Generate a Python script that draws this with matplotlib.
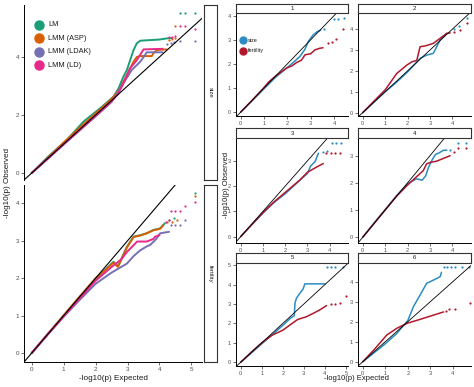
import matplotlib
matplotlib.use("Agg")
import matplotlib.pyplot as plt

plt.rcParams["font.family"] = ["Liberation Sans", "DejaVu Sans"]

# ---- left panel: model comparison (size / fertility) ----
model_labels = ["LM", "LMM (ASP)", "LMM (LDAK)", "LMM (LD)"]
model_colors = ["#1b9e77", "#d95f02", "#7570b3", "#e7298a"]

# size
size_lm_x = [0, 0.5, 1.1, 1.62, 2.14, 2.56, 2.72, 2.87, 2.98, 3.1, 3.19, 3.29, 3.4, 3.7, 4.0, 4.23, 4.4]
size_lm_y = [0, 0.55, 1.14, 1.77, 2.23, 2.63, 2.92, 3.32, 3.55, 3.95, 4.24, 4.47, 4.56, 4.58, 4.6, 4.64, 4.65]
size_lm_tx = [4.65, 4.81, 5.12]
size_lm_ty = [5.53, 5.53, 5.53]
size_asp_x = [0, 0.5, 1.0, 1.5, 2.0, 2.5, 2.77, 2.98, 3.19, 3.29, 3.4, 3.76, 3.81, 3.92, 4.23]
size_asp_y = [0, 0.52, 1.05, 1.56, 2.05, 2.55, 2.92, 3.38, 3.84, 4.0, 4.03, 4.03, 4.13, 4.24, 4.26]
size_asp_tx = [4.3, 4.4, 4.49, 4.49]
size_asp_ty = [4.6, 4.62, 4.65, 5.05]
size_ldak_x = [0, 0.5, 1.0, 1.5, 2.0, 2.5, 2.87, 3.13, 3.29, 3.4, 3.55, 3.6, 4.1]
size_ldak_y = [0, 0.49, 0.98, 1.47, 1.95, 2.45, 3.09, 3.55, 3.72, 3.84, 4.07, 4.16, 4.16]
size_ldak_tx = [4.25, 4.35, 4.45, 4.65, 5.12]
size_ldak_ty = [4.45, 4.47, 4.5, 4.55, 4.55]
size_ld_x = [0, 0.5, 1.0, 1.5, 2.0, 2.5, 2.7, 2.85, 3.08, 3.29, 3.5, 4.1]
size_ld_y = [0, 0.49, 0.99, 1.48, 1.97, 2.47, 2.72, 3.05, 3.61, 3.89, 4.26, 4.28]
size_ld_tx = [4.3, 4.4, 4.5, 4.65, 4.81, 5.12]
size_ld_ty = [4.68, 4.7, 4.72, 5.05, 5.05, 4.96]

# fertility
fert_lm_x = [0, 0.5, 1.0, 1.5, 2.04, 2.45, 2.56, 2.7, 2.98, 3.19, 3.4, 3.6, 3.81, 4.02, 4.17]
fert_lm_y = [0, 0.5, 1.0, 1.5, 2.0, 2.35, 2.44, 2.32, 2.84, 3.11, 3.15, 3.2, 3.29, 3.33, 3.47]
fert_lm_tx = [4.3, 4.45, 5.12]
fert_lm_ty = [3.55, 3.6, 4.27]
fert_asp_x = [0, 0.5, 1.0, 1.5, 2.0, 2.45, 2.56, 2.7, 2.98, 3.19, 3.4, 3.6, 3.81, 4.02, 4.12]
fert_asp_y = [0, 0.51, 1.01, 1.51, 2.0, 2.33, 2.42, 2.3, 2.82, 3.1, 3.14, 3.2, 3.28, 3.32, 3.42]
fert_asp_tx = [4.25, 4.4, 4.55, 5.12]
fert_asp_ty = [3.5, 3.5, 3.55, 4.2]
fert_ldak_x = [0, 0.5, 1.0, 1.5, 2.0, 2.5, 2.98, 3.2, 3.39, 3.6, 3.71, 3.9, 4.02, 4.3]
fert_ldak_y = [0, 0.49, 0.97, 1.42, 1.85, 2.15, 2.39, 2.6, 2.74, 2.85, 2.89, 3.05, 3.2, 3.24]
fert_ldak_tx = [4.35, 4.5, 4.65, 4.81]
fert_ldak_ty = [3.41, 3.41, 3.42, 3.55]
fert_ld_x = [0, 0.5, 1.0, 1.5, 2.0, 2.5, 2.8, 2.98, 3.3, 3.6, 3.81, 3.86, 4.0]
fert_ld_y = [0, 0.5, 0.98, 1.46, 1.93, 2.3, 2.5, 2.7, 2.98, 2.98, 3.05, 3.11, 3.15]
fert_ld_tx = [4.2, 4.3, 4.35, 4.5, 4.65, 4.81, 5.12]
fert_ld_ty = [3.5, 3.55, 3.8, 3.8, 3.8, 3.93, 4.03]

# ---- right panel: six chromosomes, size vs fertility ----
trait_labels = ["size", "fertility"]
trait_colors = ["#2b8cc4", "#b2182b"]
facet_names = ["1", "2", "3", "4", "5", "6"]

blue1_x = [0, 0.5, 1.0, 1.5, 2.0, 2.3, 2.54, 2.75, 2.9, 3.1, 3.28, 3.43]
blue1_y = [0, 0.48, 0.97, 1.45, 1.85, 2.1, 2.31, 2.6, 2.93, 3.2, 3.34, 3.4]
blue1_tx = [3.55, 4.0, 4.15, 4.42]
blue1_ty = [3.45, 3.85, 3.88, 3.92]
red1_x = [0, 0.5, 1.0, 1.2, 1.5, 1.97, 2.2, 2.4, 2.6, 2.76, 3.0, 3.18, 3.39, 3.53]
red1_y = [0, 0.5, 1.02, 1.25, 1.5, 1.83, 1.92, 2.06, 2.15, 2.38, 2.42, 2.58, 2.65, 2.67]
red1_tx = [3.75, 3.9, 4.1, 4.38]
red1_ty = [2.86, 2.9, 3.03, 3.44]

blue2_x = [0, 0.5, 1.0, 1.5, 2.0, 2.56, 2.86, 3.15, 3.3, 3.45, 3.75]
blue2_y = [0, 0.5, 1.0, 1.45, 1.95, 2.6, 2.76, 2.84, 3.16, 3.48, 3.8]
blue2_tx = [4.05, 4.3, 4.65]
blue2_ty = [4.0, 4.15, 4.55]
red2_x = [0, 0.5, 1.0, 1.52, 1.97, 2.2, 2.41, 2.56, 2.8, 3.15, 3.45, 3.75, 3.9]
red2_y = [0, 0.55, 1.09, 1.88, 2.28, 2.44, 2.5, 3.16, 3.2, 3.32, 3.56, 3.8, 3.82]
red2_tx = [4.05, 4.35, 4.65]
red2_ty = [3.88, 3.96, 4.28]

blue3_x = [0, 0.5, 1.0, 1.5, 2.0, 2.5, 2.8, 3.0, 3.15, 3.35, 3.5]
blue3_y = [0, 0.47, 0.93, 1.35, 1.7, 2.1, 2.35, 2.5, 2.8, 2.98, 3.31]
blue3_tx = [3.72, 3.9, 4.1, 4.3, 4.5]
blue3_ty = [3.37, 3.4, 3.73, 3.73, 3.73]
red3_x = [0, 0.5, 1.0, 1.5, 2.0, 2.4, 2.67, 3.0, 3.3, 3.5, 3.72]
red3_y = [0, 0.48, 0.95, 1.38, 1.75, 2.05, 2.25, 2.55, 2.7, 2.8, 2.9]
red3_tx = [3.85, 4.05, 4.25, 4.45]
red3_ty = [3.3, 3.31, 3.31, 3.33]

blue4_x = [0, 0.5, 1.0, 1.5, 2.0, 2.4, 2.65, 2.8, 2.95, 3.1, 3.25, 3.4, 3.6, 3.75]
blue4_y = [0, 0.52, 1.02, 1.52, 1.97, 2.15, 2.1, 2.25, 2.6, 2.85, 3.05, 3.1, 3.2, 3.2]
blue4_tx = [3.9, 4.27, 4.61]
blue4_ty = [3.22, 3.48, 3.48]
red4_x = [0, 0.5, 1.0, 1.5, 2.0, 2.5, 2.7, 2.85, 3.0, 3.3, 3.6, 3.9]
red4_y = [0, 0.5, 1.0, 1.5, 1.92, 2.3, 2.45, 2.7, 2.75, 2.8, 2.9, 3.0]
red4_tx = [4.05, 4.27, 4.61]
red4_ty = [3.15, 3.27, 3.27]

blue5_x = [0, 0.5, 1.0, 1.5, 2.0, 2.4, 2.55, 2.58, 2.65, 2.81, 2.97, 3.05, 3.5, 4.0]
blue5_y = [0, 0.47, 0.95, 1.42, 1.9, 2.3, 2.4, 3.04, 3.3, 3.55, 3.78, 4.04, 4.04, 4.04]
blue5_tx = [4.1, 4.3, 4.5, 4.87]
blue5_ty = [4.93, 4.93, 4.93, 4.93]
red5_x = [0, 0.5, 1.0, 1.5, 2.0, 2.34, 2.7, 3.13, 3.5, 3.76, 4.08]
red5_y = [0, 0.52, 1.0, 1.4, 1.65, 1.92, 2.2, 2.35, 2.55, 2.7, 2.92]
red5_tx = [4.3, 4.5, 4.7, 5.0]
red5_ty = [3.0, 3.02, 3.05, 3.4]

blue6_x = [0, 0.5, 1.0, 1.5, 1.8, 2.0, 2.25, 2.55, 2.84, 3.14, 3.44, 3.5]
blue6_y = [0, 0.45, 0.9, 1.4, 1.8, 2.05, 2.75, 3.34, 3.92, 4.08, 4.25, 4.47]
blue6_tx = [3.6, 3.75, 3.9, 4.1, 4.4, 4.7]
blue6_ty = [4.72, 4.72, 4.72, 4.75, 4.75, 4.75]
red6_x = [0, 0.5, 1.07, 1.51, 1.96, 2.55, 3.14, 3.59]
red6_y = [0, 0.6, 1.34, 1.67, 1.92, 2.12, 2.33, 2.49]
red6_tx = [3.7, 3.85, 4.1, 4.77]
red6_ty = [2.55, 2.62, 2.66, 2.92]

W, H = 474, 387
fig = plt.figure(figsize=(W / 100, H / 100), dpi=100)
fig.patch.set_facecolor("white")


def add_px(l, t, r, b):
    return fig.add_axes([l / W, 1 - b / H, (r - l) / W, (b - t) / H])


def style_axes(ax, xticks, yticks, show_x=True, fs=4.5):
    for s in ["top", "right"]:
        ax.spines[s].set_visible(False)
    ax.spines["left"].set_linewidth(0.7)
    ax.spines["bottom"].set_linewidth(0.7)
    ax.spines["bottom"].set_visible(show_x)
    ax.set_yticks(yticks)
    ax.set_xticks(xticks if show_x else [])
    ax.tick_params(length=2, width=0.5, pad=1.5, labelsize=fs,
                   labelcolor="#4d4d4d", color="#333333")


def strip(l, t, r, b, text, rot=0):
    sax = add_px(l, t, r, b)
    sax.set_xticks([])
    sax.set_yticks([])
    for s in sax.spines.values():
        s.set_linewidth(0.8)
        s.set_color("#333333")
    sax.text(0.5, 0.5, text, rotation=rot, ha="center", va="center",
             fontsize=4.3, color="#1a1a1a", transform=sax.transAxes)


def draw_series(ax, x, y, tx, ty, color, lw):
    ax.plot(x, y, color=color, lw=lw, solid_capstyle="round", zorder=2)
    ax.plot(tx, ty, ls="none", marker="o", ms=1.6, mew=0, color=color, zorder=2,
            clip_on=False)


# left: size
ax_s = add_px(24, 5, 202, 180)
size_sets = [
    (size_lm_x, size_lm_y, size_lm_tx, size_lm_ty),
    (size_asp_x, size_asp_y, size_asp_tx, size_asp_ty),
    (size_ldak_x, size_ldak_y, size_ldak_tx, size_ldak_ty),
    (size_ld_x, size_ld_y, size_ld_tx, size_ld_ty),
]
for (x, y, tx, ty), c in zip(size_sets, model_colors):
    draw_series(ax_s, x, y, tx, ty, c, 1.4)
ax_s.axline((0, 0), slope=1, color="black", lw=0.8, zorder=3)
ax_s.set_xlim(-0.24, 5.33)
ax_s.set_ylim(-0.24, 5.79)
style_axes(ax_s, [], [0, 2, 4], show_x=False)
for i, (lab, c) in enumerate(zip(model_labels, model_colors)):
    yy = 0.886 - i * 0.077
    ax_s.plot(0.084, yy, "o", ms=6.5, color=c, transform=ax_s.transAxes, clip_on=False)
    ax_s.text(0.135, yy, lab, fontsize=5.3, color="#1a1a1a", va="center",
              transform=ax_s.transAxes)
strip(204, 5, 217, 180, "size", rot=-90)

# left: fertility
ax_f = add_px(24, 185, 202, 361.7)
fert_sets = [
    (fert_lm_x, fert_lm_y, fert_lm_tx, fert_lm_ty),
    (fert_asp_x, fert_asp_y, fert_asp_tx, fert_asp_ty),
    (fert_ldak_x, fert_ldak_y, fert_ldak_tx, fert_ldak_ty),
    (fert_ld_x, fert_ld_y, fert_ld_tx, fert_ld_ty),
]
for (x, y, tx, ty), c in zip(fert_sets, model_colors):
    draw_series(ax_f, x, y, tx, ty, c, 1.4)
ax_f.axline((0, 0), slope=1, color="black", lw=0.8, zorder=3)
ax_f.set_xlim(-0.24, 5.33)
ax_f.set_ylim(-0.23, 4.49)
style_axes(ax_f, [0, 1, 2, 3, 4, 5], [0, 1, 2, 3, 4])
strip(204, 185, 217, 361.7, "fertility", rot=-90)

fig.text(113 / W, 1 - 378 / H, "-log10(p) Expected", ha="center", va="center",
         fontsize=5.9, color="#1a1a1a")
fig.text(8 / W, 1 - 183 / H, "-log10(p) Observed", ha="center", va="center",
         rotation=90, fontsize=5.9, color="#1a1a1a")

# right: facets
facet_data = [
    (blue1_x, blue1_y, blue1_tx, blue1_ty, red1_x, red1_y, red1_tx, red1_ty),
    (blue2_x, blue2_y, blue2_tx, blue2_ty, red2_x, red2_y, red2_tx, red2_ty),
    (blue3_x, blue3_y, blue3_tx, blue3_ty, red3_x, red3_y, red3_tx, red3_ty),
    (blue4_x, blue4_y, blue4_tx, blue4_ty, red4_x, red4_y, red4_tx, red4_ty),
    (blue5_x, blue5_y, blue5_tx, blue5_ty, red5_x, red5_y, red5_tx, red5_ty),
    (blue6_x, blue6_y, blue6_tx, blue6_ty, red6_x, red6_y, red6_tx, red6_ty),
]
facet_xlim = [(-0.2, 4.6), (-0.21, 4.83), (-0.21, 4.83), (-0.21, 4.83), (-0.22, 5.1), (-0.21, 4.81)]
facet_ylim = [(-0.16, 4.1), (-0.16, 4.76), (-0.24, 3.9), (-0.2, 3.64), (-0.19, 5.13), (-0.21, 4.95)]
facet_xticks = [[0, 1, 2, 3, 4], [0, 1, 2, 3, 4], [0, 1, 2, 3, 4], [0, 1, 2, 3, 4],
                [0, 1, 2, 3, 4, 5], [0, 1, 2, 3, 4]]
facet_yticks = [[0, 1, 2, 3, 4], [0, 1, 2, 3, 4], [0, 1, 2, 3], [0, 1, 2, 3],
                [0, 1, 2, 3, 4, 5], [0, 1, 2, 3, 4]]
col_lr = [(236, 348), (358, 471)]
row_tb = [(4, 13.3, 116), (128.3, 138.3, 242.7), (252.7, 262.7, 366)]

facet_axes = []
for k, name in enumerate(facet_names):
    r, c = divmod(k, 2)
    l, rr = col_lr[c]
    st, at, ab = row_tb[r]
    ax = add_px(l, at, rr, ab)
    bx, by, btx, bty, rx, ry, rtx, rty = facet_data[k]
    draw_series(ax, bx, by, btx, bty, trait_colors[0], 1.1)
    draw_series(ax, rx, ry, rtx, rty, trait_colors[1], 1.1)
    ax.axline((0, 0), slope=1, color="black", lw=0.6, zorder=3)
    ax.set_xlim(*facet_xlim[k])
    ax.set_ylim(*facet_ylim[k])
    style_axes(ax, facet_xticks[k], facet_yticks[k], fs=4.0)
    strip(l, st, rr, at, name)
    facet_axes.append(ax)

ax1 = facet_axes[0]
for i, (lab, c) in enumerate(zip(trait_labels, trait_colors)):
    yy = 0.737 - i * 0.101
    ax1.plot(0.065, yy, "o", ms=5, color=c, transform=ax1.transAxes, clip_on=False)
    ax1.text(0.107, yy, lab, fontsize=4.0, color="#1a1a1a", va="center",
             transform=ax1.transAxes)

fig.text(357 / W, 1 - 378 / H, "-log10(p) Expected", ha="center", va="center",
         fontsize=5.5, color="#1a1a1a")
fig.text(226 / W, 1 - 185 / H, "-log10(p) Observed", ha="center", va="center",
         rotation=90, fontsize=5.5, color="#1a1a1a")

fig.savefig("out.png", dpi=100, facecolor="white")
